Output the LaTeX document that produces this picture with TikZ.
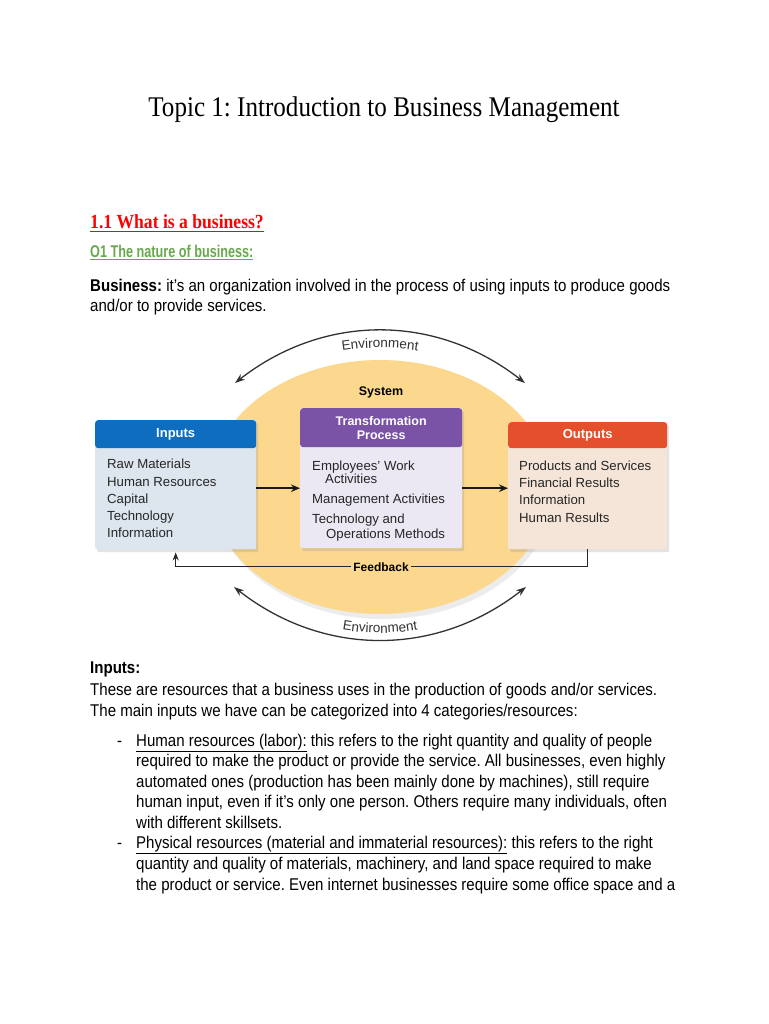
\documentclass[tikz,border=0pt]{standalone}
\usepackage{fontspec}
\setmainfont{Liberation Serif}
\newfontfamily\titlefont{Liberation Serif}[FakeStretch=0.88]
\newfontfamily\bodyfont{Liberation Sans}[FakeStretch=0.885]
\newfontfamily\greenfont{Liberation Sans}[FakeStretch=0.745]
\newfontfamily\diafont{Liberation Sans}
\usetikzlibrary{arrows.meta,shadows,decorations.text,shapes.geometric}
\definecolor{inHead}{HTML}{0E6DBF}
\definecolor{inBody}{HTML}{DDE5EF}
\definecolor{trHead}{HTML}{7A52A6}
\definecolor{trBody}{HTML}{EBE7F3}
\definecolor{outHead}{HTML}{E4502B}
\definecolor{outBody}{HTML}{F5E5D8}
\definecolor{sysFill}{HTML}{FCD88F}
\definecolor{txtgray}{HTML}{262626}
\definecolor{envgray}{HTML}{333333}
\definecolor{headred}{HTML}{FF0000}
\definecolor{headgreen}{HTML}{6AA84F}
\frenchspacing
\tikzset{
  doc/.style={anchor=base west, inner sep=0pt, text=black, font=\bodyfont\fontsize{17}{20}\selectfont},
  boxbody/.style={draw=none, rounded corners=2pt, inner sep=0pt, anchor=north west,
    drop shadow={shadow xshift=2pt, shadow yshift=-3pt, opacity=0.22}},
  boxhead/.style={rounded corners=3pt, inner sep=0pt, anchor=north west, text=white, align=center,
    font=\diafont\bfseries\fontsize{13}{14}\selectfont},
  boxtxt/.style={anchor=base west, inner sep=0pt, text=txtgray, font=\diafont\fontsize{13.2}{15}\selectfont},
  flow/.style={draw=black!90, line width=1.6pt, -{Stealth[length=9pt,width=7.5pt]}},
  fbline/.style={draw=black!85, line width=1.2pt},
  envarc/.style={draw=black!80, line width=1.3pt, {Stealth[length=10pt,width=7pt]}-{Stealth[length=10pt,width=7pt]}},
  envtext/.style={decorate, decoration={text along path, text align=center, text color=envgray,
    text={|\diafont\fontsize{13.5}{15}\selectfont|Environment}}},
  lbl/.style={inner sep=0pt, anchor=base, text=black, font=\diafont\bfseries\fontsize{12.5}{14}\selectfont}
}
\begin{document}
\begin{tikzpicture}[x=1pt,y=1pt]
\useasboundingbox (0,0) rectangle (768,-1024);
\fill[white] (0,0) rectangle (768,-1024);

% ---------- document text ----------
\node[anchor=base, inner sep=0pt, font=\titlefont\fontsize{28.5}{32}\selectfont] (title) at (384,-117)
  {Topic 1: Introduction to Business Management};
\node[anchor=base west, inner sep=0pt, text=headred, font=\titlefont\bfseries\fontsize{20}{24}\selectfont] (h1) at (90,-229)
  {\underline{1.1 What is a business?}};
\node[anchor=base west, inner sep=0pt, text=headgreen, font=\greenfont\bfseries\fontsize{17}{19}\selectfont] (h2) at (90,-258)
  {\underline{O1 The nature of business:}};
\node[doc] (b1) at (90,-291) {{\bfseries Business:} it’s an organization involved in the process of using inputs to produce goods};
\node[doc] (b2) at (90,-311) {and/or to provide services.};

\node[doc] (i0) at (90,-673) {\bfseries Inputs:};
\node[doc] (i1) at (90,-695) {These are resources that a business uses in the production of goods and/or services.};
\node[doc] (i2) at (90,-716) {The main inputs we have can be categorized into 4 categories/resources:};
\node[doc] (d1) at (117,-746) {-};
\node[doc] (l1) at (136,-746) {\underline{Human resources (labor):} this refers to the right quantity and quality of people};
\node[doc] (l2) at (136,-766) {required to make the product or provide the service. All businesses, even highly};
\node[doc] (l3) at (136,-787) {automated ones (production has been mainly done by machines), still require};
\node[doc] (l4) at (136,-807) {human input, even if it’s only one person. Others require many individuals, often};
\node[doc] (l5) at (136,-828) {with different skillsets.};
\node[doc] (d2) at (117,-848) {-};
\node[doc] (l6) at (136,-848) {\underline{Physical resources (material and immaterial resources):} this refers to the right};
\node[doc] (l7) at (136,-869) {quantity and quality of materials, machinery, and land space required to make};
\node[doc] (l8) at (136,-890) {the product or service. Even internet businesses require some office space and a};

% ---------- diagram ----------
\node[ellipse, fill=sysFill, inner sep=0pt, minimum width=340pt, minimum height=254pt,
  drop shadow={shadow xshift=3pt, shadow yshift=-5pt, opacity=0.15}] (sysE) at (380,-487) {};
\node[lbl] (sys) at (381,-395) {System};

% environment arcs
\coordinate (eTL) at (235,-383);
\coordinate (eTR) at (525,-383);
\coordinate (eBL) at (234,-587);
\coordinate (eBR) at (526,-587);
\draw[envarc] (eTL) to[bend left=38] (eTR);
\draw[envarc] (eBL) to[bend right=38] (eBR);
\coordinate (eTc) at (380,-592.8);
\coordinate (eBc) at (380,-416.6);
\path[envtext] ([shift={(118:245)}]eTc) arc[start angle=118, end angle=62, radius=245];
\path[envtext] ([shift={(238:216.4)}]eBc) arc[start angle=238, end angle=302, radius=216.4];

% Inputs box
\node[boxbody, fill=inBody, minimum width=161pt, minimum height=129pt] (inB) at (95,-420) {};
\node[boxhead, fill=inHead, minimum width=161pt, minimum height=28pt] (inH) at (95,-420) {Inputs};
\foreach \t/\y [count=\i] in {Raw Materials/468, Human Resources/486, Capital/503, Technology/520, Information/537}
  \node[boxtxt] (inT\i) at (107,-\y) {\t};

% Transformation box
\node[boxbody, fill=trBody, minimum width=162pt, minimum height=140pt] (trB) at (300,-408) {};
\node[boxhead, fill=trHead, minimum width=162pt, minimum height=39pt, font=\diafont\bfseries\fontsize{12.5}{14}\selectfont] (trH) at (300,-408) {Transformation\\Process};
\node[boxtxt] (trT1) at (312,-470) {Employees’ Work};
\node[boxtxt] (trT2) at (325,-483) {Activities};
\node[boxtxt] (trT3) at (312,-503) {Management Activities};
\node[boxtxt] (trT4) at (312,-523) {Technology and};
\node[boxtxt] (trT5) at (326,-538) {Operations Methods};

% Outputs box
\node[boxbody, fill=outBody, minimum width=159pt, minimum height=127pt] (outB) at (508,-422) {};
\node[boxhead, fill=outHead, minimum width=159pt, minimum height=26pt] (outH) at (508,-422) {Outputs};
\foreach \t/\y [count=\i] in {Products and Services/470, Financial Results/487, Information/504, Human Results/522}
  \node[boxtxt] (outT\i) at (519,-\y) {\t};

% flow arrows
\draw[flow] ([yshift=-3.5pt]inB.east) -- ([yshift=-3.5pt]inB.east -| trB.west);
\draw[flow] ([yshift=-3.5pt]inB.east -| trB.east) -- ([yshift=-3.5pt]inB.east -| outB.west);

% feedback
\node[lbl, inner sep=2.5pt, font=\diafont\bfseries\fontsize{12}{14}\selectfont] (fb) at (381,-571) {Feedback};
\draw[fbline] (outB.south) |- (fb.east);
\draw[fbline, -{Stealth[length=8pt,width=6pt]}] (fb.west) -| ([yshift=-3pt]inB.south);
\end{tikzpicture}
\end{document}
